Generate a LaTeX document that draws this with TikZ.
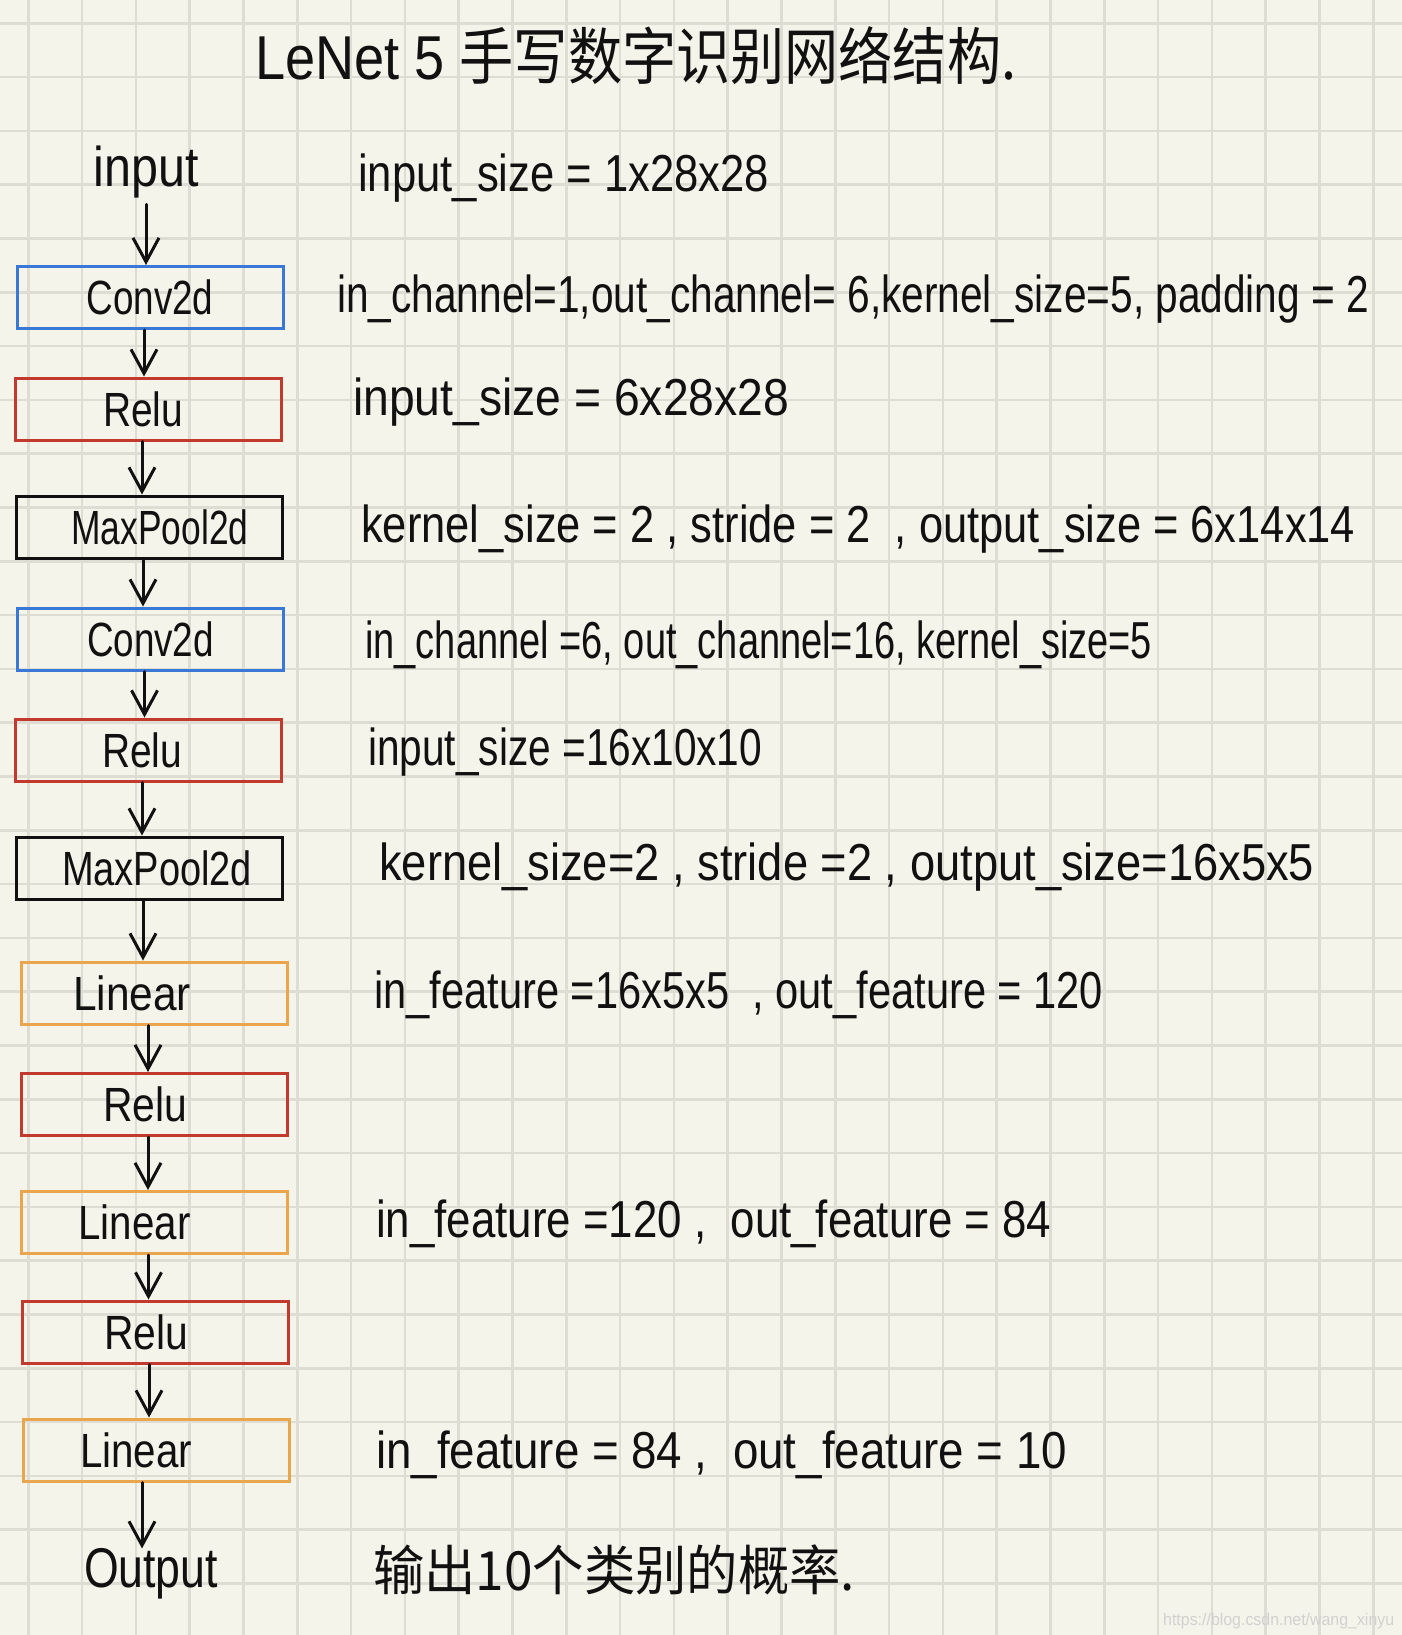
\documentclass[tikz,border=0pt]{standalone}
\usepackage{fontspec}
\usepackage{graphicx}
\setmainfont{Liberation Sans}
\newfontfamily\cjkfont{Noto Sans CJK SC}
\usetikzlibrary{arrows.meta, positioning}
\definecolor{paper}{HTML}{F5F4EA}
\definecolor{gridgray}{HTML}{DEDDD3}
\definecolor{convblue}{HTML}{3A78D8}
\definecolor{relured}{HTML}{C23A2E}
\definecolor{linearorange}{HTML}{E9A64C}
\definecolor{inkblack}{HTML}{111111}
\newcommand{\fitto}[2]{\resizebox{#1}{\height}{#2}}

\begin{document}
\begin{tikzpicture}[x=1pt, y=-1pt, inkblack,
  layer/.style={draw, line width=3pt, minimum width=266pt, minimum height=62pt, inner sep=0pt, font=\fontsize{48}{52}\selectfont},
  param/.style={anchor=base west, inner sep=0pt, font=\fontsize{52}{56}\selectfont},
  flow/.style={-{Straight Barb[length=24pt,width=26pt]}, line width=3pt, line cap=round}]
  % Grid paper
  \fill[paper] (0,0) rectangle (1402,1635);
  \useasboundingbox (0,0) rectangle (1402,1635);
  \foreach \i in {0,...,25} {
    \draw[gridgray, line width=2.5pt] (28.3+53.8*\i,0) -- (28.3+53.8*\i,1635);
  }
  \foreach \j in {0,...,30} {
    \draw[gridgray, line width=2.5pt] (0,23.3+53.8*\j) -- (1402,23.3+53.8*\j);
  }

  % Title
  \node[anchor=base west, inner sep=0pt, font=\fontsize{62}{66}\selectfont] (title) at (255,80)
    {\fitto{761pt}{LeNet 5 {\cjkfont 手写数字识别网络结构.}}};

  % Layer column
  \node[inner sep=0pt, font=\fontsize{56}{60}\selectfont] (input) at (146,172) {\fitto{105pt}{input}};
  \node[layer, convblue] (conv1) at (150,297.5) {\color{inkblack}\fitto{127pt}{Conv2d}};
  \node[layer, relured] (relu1) at (148,409) {\color{inkblack}\hspace{-10pt}\fitto{80pt}{Relu}};
  \node[layer] (pool1) at (149,527) {\hspace{22pt}\fitto{177pt}{MaxPool2d}};
  \node[layer, convblue] (conv2) at (150.5,639) {\color{inkblack}\fitto{127pt}{Conv2d}};
  \node[layer, relured] (relu2) at (148,750) {\color{inkblack}\hspace{-12pt}\fitto{80pt}{Relu}};
  \node[layer] (pool2) at (149,868) {\hspace{16pt}\fitto{190pt}{MaxPool2d}};
  \node[layer, linearorange] (lin1) at (154,993) {\color{inkblack}\hspace{-44pt}\fitto{118pt}{Linear}};
  \node[layer, relured] (relu3) at (154,1104.5) {\color{inkblack}\hspace{-18pt}\fitto{84pt}{Relu}};
  \node[layer, linearorange] (lin2) at (154.5,1222.5) {\color{inkblack}\hspace{-40pt}\fitto{112pt}{Linear}};
  \node[layer, relured] (relu4) at (155,1332) {\color{inkblack}\hspace{-18pt}\fitto{84pt}{Relu}};
  \node[layer, linearorange] (lin3) at (156,1450) {\color{inkblack}\hspace{-40pt}\fitto{112pt}{Linear}};
  \node[inner sep=0pt, font=\fontsize{56}{60}\selectfont] (output) at (151,1574) {\fitto{134pt}{Output}};

  % Arrows
  \draw[flow] ([yshift=-6pt]input.south) -- (input.south |- conv1.north);
  \foreach \a/\b in {conv1/relu1, relu1/pool1, pool1/conv2, conv2/relu2, relu2/pool2,
                     pool2/lin1, lin1/relu3, relu3/lin2, lin2/relu4, relu4/lin3} {
    \draw[flow] ([xshift=-6pt]\a.south) -- ([xshift=-6pt]\a.south |- \b.north);
  }
  \draw[flow] ([xshift=-14pt]lin3.south) -- ([xshift=-14pt]lin3.south |- output.north);

  % Parameters
  \node[param] (p1) at (358,191) {\fitto{411pt}{input\_size = 1x28x28}};
  \node[param] (p2) at (337,312) {\fitto{1032pt}{in\_channel=1,out\_channel= 6,kernel\_size=5, padding = 2}};
  \node[param] (p3) at (353,415) {\fitto{436pt}{input\_size = 6x28x28}};
  \node[param] (p4) at (361,542) {\fitto{994pt}{kernel\_size = 2 , stride = 2 \ , output\_size = 6x14x14}};
  \node[param] (p5) at (365,658) {\fitto{787pt}{in\_channel =6, out\_channel=16, kernel\_size=5}};
  \node[param] (p6) at (368,765) {\fitto{394pt}{input\_size =16x10x10}};
  \node[param] (p7) at (379,880) {\fitto{935pt}{kernel\_size=2 , stride =2 , output\_size=16x5x5}};
  \node[param] (p8) at (374,1008) {\fitto{729pt}{in\_feature =16x5x5 \ , out\_feature = 120}};
  \node[param] (p9) at (376,1237) {\fitto{675pt}{in\_feature =120 , \ out\_feature = 84}};
  \node[param] (p10) at (376,1468) {\fitto{691pt}{in\_feature = 84 , \ out\_feature = 10}};
  \node[param, font=\fontsize{54}{58}\selectfont] (result) at (373,1590) {\fitto{482pt}{\cjkfont 输出10个类别的概率.}};

  % Watermark
  \node[anchor=base west, inner sep=0pt, black!18, font=\fontsize{17}{20}\selectfont] (mark) at (1163,1625)
    {\fitto{231pt}{https://blog.csdn.net/wang\_xinyu}};
\end{tikzpicture}
\end{document}
